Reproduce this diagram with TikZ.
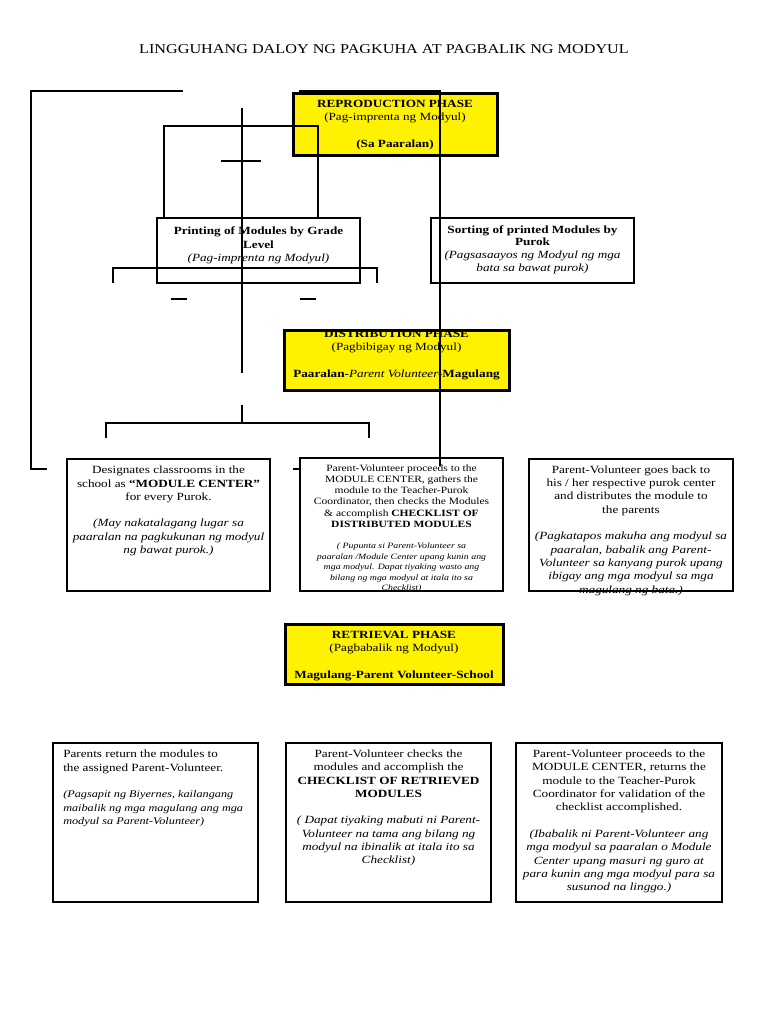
\documentclass[tikz,border=0pt]{standalone}
\usepackage{fontspec}
\setmainfont{Liberation Serif}[FakeStretch=1.2]
\usepackage{tikz}

\begin{document}
\begin{tikzpicture}[x=1pt,y=-1pt,line width=2.5pt,
        phase/.style={draw,line width=3pt,fill=yellow,inner sep=0pt},
        card/.style={draw,line width=2pt,fill=white,inner sep=0pt},
        words/.style={align=center,inner sep=0pt,yshift=-2pt,font=\fontsize{11}{13.3}\selectfont},
        small/.style={align=center,inner sep=0pt,yshift=-1pt,font=\fontsize{9.6}{11.2}\selectfont},
        tiny/.style={align=center,inner sep=0pt,yshift=-1pt,font=\fontsize{8.2}{10.5}\selectfont\itshape}]
        \useasboundingbox (0,0) rectangle (768,1024);

        \node[font=\fontsize{13.5}{16}\selectfont] (title) at (384,49) {LINGGUHANG DALOY NG PAGKUHA AT PAGBALIK NG MODYUL};

        % reproduction
        \node[phase,minimum width=204pt,minimum height=62pt] (repro) at (395,124.5) {};
        \node[words] (repro-t) at (395,123) {\textbf{REPRODUCTION PHASE}\\(Pag-imprenta ng Modyul)\\[13.3pt]\textbf{(Sa Paaralan)}};

        \node[card,minimum width=203pt,minimum height=65pt] (print) at (258.5,250.5) {};
        \node[words] (print-t) at (258.5,243.5) {\textbf{Printing of Modules by Grade}\\\textbf{Level}\\\textit{(Pag-imprenta ng Modyul)}};

        \node[card,minimum width=203pt,minimum height=65pt] (sort) at (532.5,250.5) {};
        \node[words,font=\fontsize{11}{12.8}\selectfont] (sort-t) at (532.5,247.5) {\textbf{Sorting of printed Modules by}\\\textbf{Purok}\\\textit{(Pagsasaayos ng Modyul ng mga}\\\textit{bata sa bawat  purok)}};

        % distribution
        \node[phase,minimum width=225pt,minimum height=60pt] (distrib) at (396.5,360) {};
        \node[words] (distrib-t) at (396.5,353) {\textbf{DISTRIBUTION PHASE}\\(Pagbibigay ng Modyul)\\[13.3pt]\textbf{Paaralan-}\textit{Parent Volunteer-}\textbf{Magulang}};

        \node[card,minimum width=203pt,minimum height=132pt] (desig) at (168.5,525) {};
        \node[words] (desig-t) at (168.5,509) {Designates classrooms in the\\school as \textbf{“MODULE CENTER”}\\for every Purok.\\[13.3pt]\textit{(May nakatalagang lugar sa}\\\textit{paaralan na pagkukunan ng modyul}\\\textit{ng bawat purok.)}};

        \node[card,minimum width=203pt,minimum height=133pt] (gather) at (401.5,524.5) {};
        \node[small] (gather-t) at (401.5,495) {Parent-Volunteer proceeds to the\\MODULE CENTER, gathers the\\module to the Teacher-Purok\\Coordinator, then checks the Modules\\\& accomplish \textbf{CHECKLIST OF}\\\textbf{DISTRIBUTED MODULES}};
        \node[tiny] (gather-i) at (401.5,567) {( Pupunta si Parent-Volunteer sa\\paaralan /Module Center upang kunin ang\\mga modyul. Dapat tiyaking wasto ang\\bilang ng mga modyul at itala ito sa\\Checklist)};

        \node[card,minimum width=204pt,minimum height=132pt] (goback) at (631,525) {};
        \node[words] (goback-t) at (631,528.5) {Parent-Volunteer goes back to\\his / her respective purok center\\and distributes the module to\\the parents\\[13.3pt]\textit{(Pagkatapos makuha ang modyul sa}\\\textit{paaralan, babalik ang Parent-}\\\textit{Volunteer sa kanyang purok upang}\\\textit{ibigay ang mga modyul sa mga}\\\textit{magulang ng bata.)}};

        % retrieval
        \node[phase,minimum width=218pt,minimum height=60pt] (retriev) at (394,654) {};
        \node[words] (retriev-t) at (394,654) {\textbf{RETRIEVAL PHASE}\\(Pagbabalik ng Modyul)\\[13.3pt]\textbf{Magulang-Parent Volunteer-School}};

        \node[card,line width=2.5pt,minimum width=205pt,minimum height=159pt] (ret1) at (155.5,822.5) {};
        \node[words,align=left,anchor=west] (ret1-t) at (62,786.5) {Parents return the modules to\\the assigned Parent-Volunteer.\\[13.3pt]{\fontsize{10.2}{13.3}\selectfont\itshape (Pagsapit ng Biyernes, kailangang}\\{\fontsize{10.2}{13.3}\selectfont\itshape maibalik ng mga magulang ang mga}\\{\fontsize{10.2}{13.3}\selectfont\itshape modyul sa Parent-Volunteer)}};

        \node[card,line width=2.5pt,minimum width=205pt,minimum height=159pt] (ret2) at (388.5,822.5) {};
        \node[words] (ret2-t) at (388.5,806) {Parent-Volunteer checks the\\modules and accomplish the\\\textbf{CHECKLIST OF RETRIEVED}\\\textbf{MODULES}\\[13.3pt]\textit{( Dapat tiyaking mabuti ni Parent-}\\\textit{Volunteer na tama ang bilang ng}\\\textit{modyul na ibinalik at itala ito sa}\\\textit{Checklist)}};

        \node[card,line width=2.5pt,minimum width=206pt,minimum height=159pt] (ret3) at (619,822.5) {};
        \node[words] (ret3-t) at (619,819.5) {Parent-Volunteer proceeds to the\\MODULE CENTER, returns the\\module to the Teacher-Purok\\Coordinator for validation of the\\checklist accomplished.\\[13.3pt]\textit{(Ibabalik ni Parent-Volunteer ang}\\\textit{mga modyul sa paaralan o Module}\\\textit{Center upang masuri ng guro at}\\\textit{para kunin ang mga modyul para sa}\\\textit{susunod na linggo.)}};

        % stray lines
        \draw (183,91) -- (31,91) -- (31,469) -- (47,469);
        \draw (299,91) -- (440,91) -- (440,466);
        \draw (164,217) -- (164,126) -- (318,126) -- (318,217);
        \draw (242,108) -- (242,373);
        \draw (221,161) -- (261,161);
        \draw (113,283) -- (113,268) -- (377,268) -- (377,283);
        \draw (171,299) -- (187,299);
        \draw (300,299) -- (316,299);
        \draw (242,405) -- (242,423);
        \draw (106,438) -- (106,423) -- (369,423) -- (369,438);
        \draw (293,469) -- (300,469);

    \end{tikzpicture}
\end{document}
